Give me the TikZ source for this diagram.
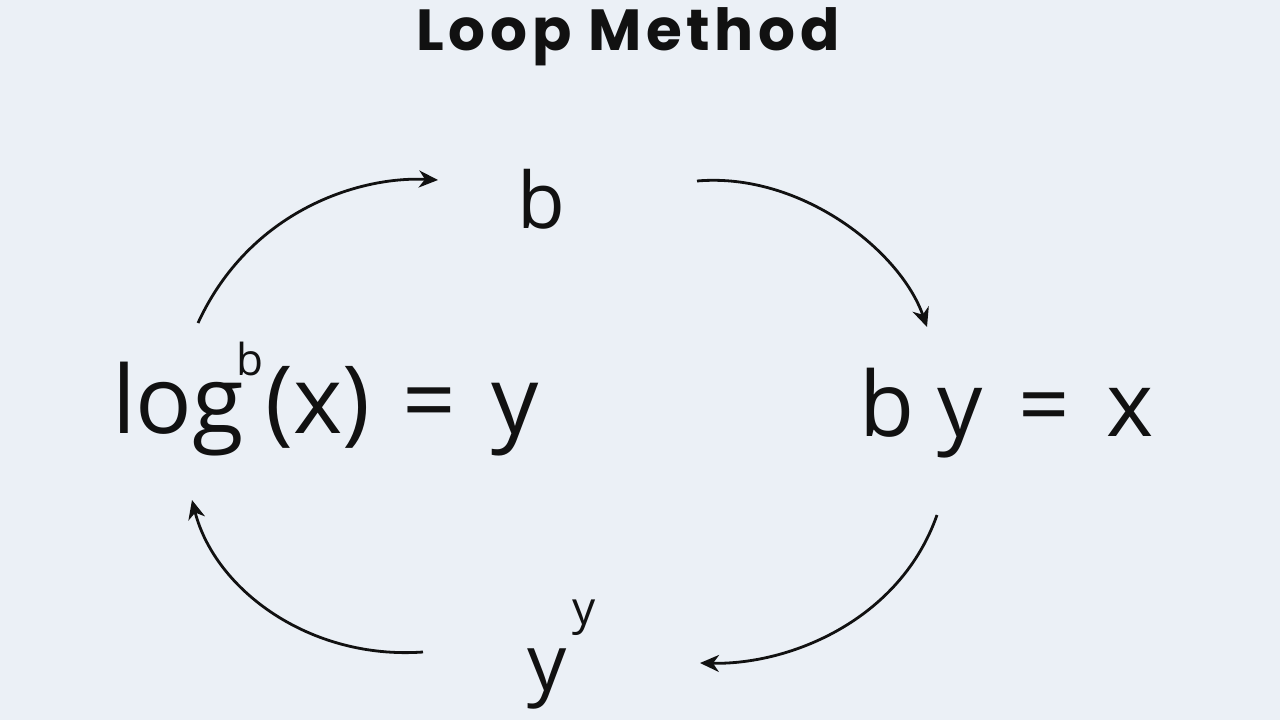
\documentclass[tikz,border=0pt]{standalone}
\usepackage{fontspec}
\setmainfont{Open Sans}
\newfontfamily\titlefont[LetterSpace=8]{Poppins}
\usetikzlibrary{arrows.meta}
\definecolor{bg}{HTML}{EBF0F6}
\definecolor{ink}{HTML}{111111}
\tikzset{
  eq/.style={inner sep=0pt, text=ink, font=\fontsize{94}{100}\selectfont},
  loopline/.style={draw=ink, line width=2.8pt, -{Stealth[length=19pt,width=17pt,inset=6pt]}},
}
\begin{document}
\begin{tikzpicture}[x=1pt,y=-1pt]
\fill[bg] (0,0) rectangle (1280,720);
\useasboundingbox (0,0) rectangle (1280,720);
% title
\node[inner sep=0pt, anchor=base, text=ink, font=\titlefont\bfseries\fontsize{58}{60}\selectfont] (title) at (628,50) {Loop Method};
% equations
\node[eq, anchor=base west] (left) at (112,433) {log\kern-8pt\raisebox{58pt}{\fontsize{44}{48}\selectfont b}\kern2pt(x)\hspace{32pt}=\hspace{36pt}y};
\node[eq, anchor=base west, font=\fontsize{90}{96}\selectfont] (right) at (859,436) {b\hspace{23pt}y\hspace{36pt}=\hspace{36pt}x};
\node[eq, anchor=base, font=\fontsize{78}{80}\selectfont] (top) at (541,228) {b};
\node[eq, anchor=base west, font=\fontsize{78}{80}\selectfont] (bot) at (527,690) {y\kern6pt\raisebox{66pt}{\fontsize{46}{50}\selectfont y}};
% arcs
\coordinate (a1s) at (198,323); \coordinate (a1e) at (438,180);
\coordinate (a2s) at (697,181); \coordinate (a2e) at (927,327);
\coordinate (a3s) at (937,515); \coordinate (a3e) at (700,663);
\coordinate (a4s) at (423,652); \coordinate (a4e) at (192,500);
\draw[loopline] (a1s) .. controls (250,210) and (360,176) .. (a1e);
\draw[loopline] (a2s) .. controls (800,172) and (900,250) .. (a2e);
\draw[loopline] (a3s) .. controls (900,620) and (790,665) .. (a3e);
\draw[loopline] (a4s) .. controls (310,660) and (215,590) .. (a4e);
\end{tikzpicture}
\end{document}
